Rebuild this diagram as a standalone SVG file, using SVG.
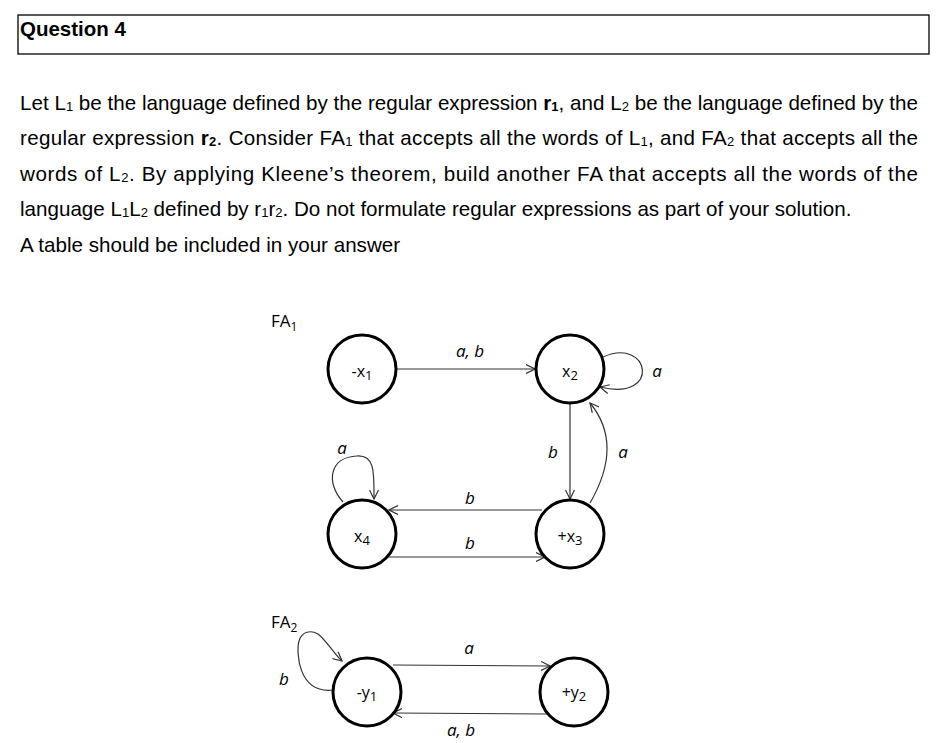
<svg xmlns="http://www.w3.org/2000/svg" width="948" height="743" viewBox="0 0 948 743">
<defs>
<style>
.body{font-family:"Liberation Sans",Arial,sans-serif;font-size:20.6px;fill:#000}
.sub{font-size:13px}
.dg{font-family:"Open Sans","Noto Sans",sans-serif;fill:#000}
.st{font-size:16px;text-anchor:middle}
.lbl{font-size:17px;font-style:italic;text-anchor:middle}
.node{fill:#fff;stroke:#000;stroke-width:3}
.edge{fill:none;stroke:#333;stroke-width:1.2;marker-end:url(#arr)}
</style>
<marker id="arr" viewBox="0 0 10 10" refX="9" refY="5" markerWidth="10" markerHeight="10" markerUnits="userSpaceOnUse" orient="auto">
<path d="M0,0.5 L9,5 L0,9.5" fill="none" stroke="#333" stroke-width="1.2"/>
</marker>
</defs>
<rect width="948" height="743" fill="#fff"/>
<g id="header">
<rect x="18" y="15" width="911" height="39" fill="none" stroke="#000" stroke-width="1.3"/>
<text x="20" y="36" style="font-family:'Liberation Sans',Arial,sans-serif;font-size:20.5px;font-weight:bold">Question 4</text>
</g>
<g id="question" class="body">
<text x="20" y="110" textLength="898" lengthAdjust="spacing">Let L<tspan class="sub" baseline-shift="-1">1</tspan> be the language defined by the regular expression <tspan font-weight="bold">r<tspan class="sub" baseline-shift="-1">1</tspan></tspan>, and L<tspan class="sub" baseline-shift="-1">2</tspan> be the language defined by the</text>
<text x="20" y="145" textLength="898" lengthAdjust="spacing">regular expression <tspan font-weight="bold">r<tspan class="sub" baseline-shift="-1">2</tspan></tspan>. Consider FA<tspan class="sub" baseline-shift="-1">1</tspan> that accepts all the words of L<tspan class="sub" baseline-shift="-1">1</tspan>, and FA<tspan class="sub" baseline-shift="-1">2</tspan> that accepts all the</text>
<text x="20" y="181" textLength="898" lengthAdjust="spacing">words of L<tspan class="sub" baseline-shift="-1">2</tspan>. By applying Kleene’s theorem, build another FA that accepts all the words of the</text>
<text x="20" y="216">language L<tspan class="sub" baseline-shift="-1">1</tspan>L<tspan class="sub" baseline-shift="-1">2</tspan> defined by r<tspan class="sub" baseline-shift="-1">1</tspan>r<tspan class="sub" baseline-shift="-1">2</tspan>. Do not formulate regular expressions as part of your solution.</text>
<text x="20" y="252">A table should be included in your answer</text>
</g>
<g id="fa-labels" class="dg">
<text x="271" y="327" font-size="17">FA<tspan font-size="12" baseline-shift="-4">1</tspan></text>
<text x="271" y="628" font-size="17">FA<tspan font-size="12" baseline-shift="-4">2</tspan></text>
</g>
<g id="connectors" class="dg">
<line class="edge" x1="396" y1="369" x2="535" y2="369"/>
<text class="lbl" x="470" y="357">a, b</text>
<path class="edge" d="M603,357 C650,336 662,402 600,387"/>
<text class="lbl" x="657" y="377">a</text>
<line class="edge" x1="570" y1="404" x2="570" y2="499"/>
<text class="lbl" x="553" y="458">b</text>
<path class="edge" d="M590,503 C612,465 614,432 590,403"/>
<text class="lbl" x="623" y="458">a</text>
<line class="edge" x1="542" y1="510" x2="389" y2="510"/>
<text class="lbl" x="470" y="504">b</text>
<line class="edge" x1="388" y1="557" x2="545" y2="557"/>
<text class="lbl" x="470" y="549">b</text>
<path class="edge" d="M343,502 C325,482 330,457 357,456 C375,455 374,472 374,499"/>
<text class="lbl" x="342" y="454">a</text>
<line class="edge" x1="393" y1="665" x2="550" y2="666"/>
<text class="lbl" x="469" y="654">a</text>
<line class="edge" x1="547" y1="714" x2="393" y2="713"/>
<text class="lbl" x="461" y="736">a, b</text>
<path class="edge" d="M333,690 C298,694 296,652 299,641 C302,631 311,630 318,634 C326,640 335,655 342,661"/>
<text class="lbl" x="284" y="685">b</text>
</g>
<g id="x1" class="dg"><circle class="node" cx="362" cy="369" r="34"/><text class="st" x="362" y="377">-x<tspan font-size="13" baseline-shift="-3">1</tspan></text></g>
<g id="x2" class="dg"><circle class="node" cx="570" cy="369" r="34"/><text class="st" x="570" y="377">x<tspan font-size="13" baseline-shift="-3">2</tspan></text></g>
<g id="x4" class="dg"><circle class="node" cx="362" cy="534" r="34"/><text class="st" x="362" y="542">x<tspan font-size="13" baseline-shift="-3">4</tspan></text></g>
<g id="x3" class="dg"><circle class="node" cx="570" cy="534" r="34"/><text class="st" x="570" y="542">+x<tspan font-size="13" baseline-shift="-3">3</tspan></text></g>
<g id="y1" class="dg"><circle class="node" cx="367" cy="692" r="34"/><text class="st" x="367" y="698">-y<tspan font-size="13" baseline-shift="-3">1</tspan></text></g>
<g id="y2" class="dg"><circle class="node" cx="574" cy="692" r="34"/><text class="st" x="574" y="698">+y<tspan font-size="13" baseline-shift="-3">2</tspan></text></g>
</svg>
